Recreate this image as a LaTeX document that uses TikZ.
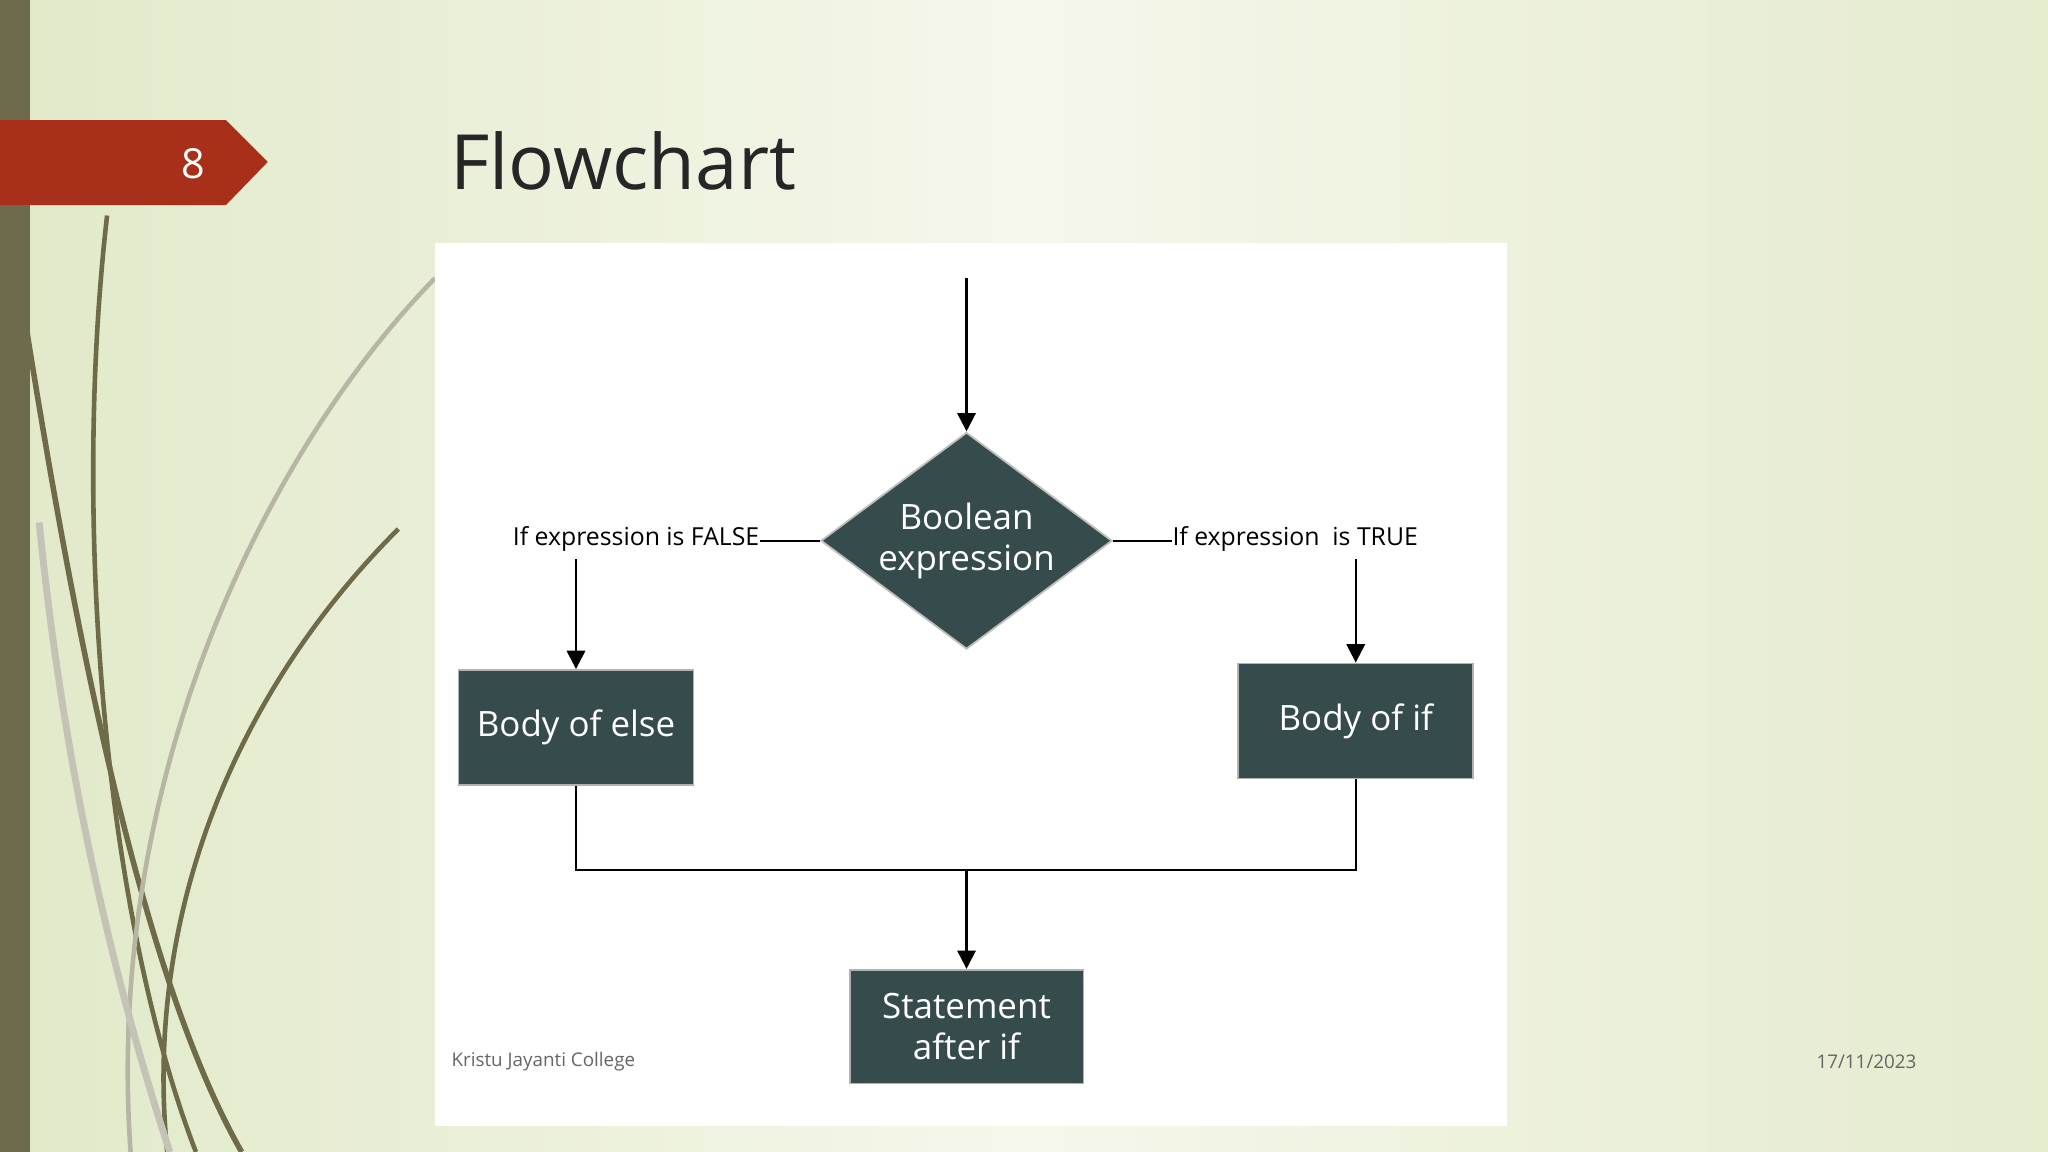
\documentclass[tikz,border=0pt]{standalone}
\usepackage{fontspec}
\setmainfont{Open Sans}
\usetikzlibrary{shapes.geometric,arrows.meta}
\definecolor{bgA}{HTML}{F4F6E8}
\definecolor{bgB}{HTML}{DCE6C0}
\definecolor{olive}{HTML}{6E6A4C}
\definecolor{tag}{HTML}{A8301A}
\definecolor{boxc}{HTML}{354B4C}
\definecolor{curve}{HTML}{6F6A48}
\begin{document}
\begin{tikzpicture}[x=0.01cm,y=-0.01cm,
  box/.style={draw=gray!60,fill=boxc,text=white,minimum width=180*0.01cm,minimum height=88*0.01cm,inner sep=0pt,align=center,font=\fontsize{7.6}{8.8}\selectfont},
  lbl/.style={font=\fontsize{5.4}{6}\selectfont,inner sep=0pt},
  arr/.style={-{Triangle[length=4pt,width=4pt]},black,line width=0.5pt},
  ln/.style={black,line width=0.5pt}]
\useasboundingbox (0,0) rectangle (1568,882);
\shade[left color=bgB,right color=bgB!90!white, middle color=bgA] (0,0) rectangle (1568,882);
\fill[white,opacity=0.15] (0,0) rectangle (1568,882);
% curves
\draw[curve,line width=1pt] (82,165) .. controls (55,400) and (80,700) .. (150,882);
\draw[curve,line width=1.2pt] (20,250) .. controls (60,500) and (110,750) .. (185,882);
\draw[curve,line width=1pt] (305,405) .. controls (180,530) and (110,700) .. (128,882);
\draw[curve!50,line width=1pt] (333,213) .. controls (200,350) and (80,600) .. (100,882);
\draw[curve!40,line width=1.5pt] (30,400) .. controls (50,600) and (90,760) .. (130,882);
\fill[olive] (0,0) rectangle (23,882);
\fill[tag] (0,92) -- (173,92) -- (205,124) -- (173,157) -- (0,157) -- cycle;
\node[text=white,font=\fontsize{9}{10}\selectfont] (num) at (148,125) {8};
\node[anchor=west,text=black!85,font=\fontsize{16.6}{19}\selectfont,inner sep=0pt] (title) at (344,123) {Flowchart};
% panel
\fill[white] (333,186) rectangle (1154,862);
\coordinate (top) at (740,213);
\node[diamond,fill=boxc,draw=gray!50,text=white,minimum width=223*0.01cm,minimum height=166*0.01cm,inner sep=0pt,aspect=1.34,align=center,font=\fontsize{7.6}{8.8}\selectfont] (dec) at (740,414) {Boolean\\expression};
\node[box] (else) at (441,557) {Body of else};
\node[box] (if) at (1038,552) {Body of if};
\node[box,minimum width=179*0.01cm,minimum height=87*0.01cm] (st) at (740,786) {Statement\\after if};
\node[lbl,anchor=east] (fl) at (582,413) {If expression is FALSE};
\node[lbl,anchor=west] (tl) at (897,413) {If expression~ is TRUE};
\draw[arr] (top) -- (dec.north);
\draw[ln] (dec.west) -- (dec.west -| fl.east);
\draw[ln] (dec.east) -- (dec.east -| tl.west);
\draw[arr] (441,428) -- (else.north);
\draw[arr] (if.north |- 0,428) -- (if.north);
\coordinate (j) at (740,666);
\draw[ln] (else.south) |- (j) -| (if.south);
\draw[arr] (j) -- (st.north);
\node[anchor=west,text=black!60,font=\fontsize{4.1}{5}\selectfont,inner sep=0pt] (ft) at (345,813) {Kristu Jayanti College};
\node[anchor=east,text=black!60,font=\fontsize{4.1}{5}\selectfont,inner sep=0pt] (dt) at (1468,813) {17/11/2023};
\end{tikzpicture}
\end{document}
